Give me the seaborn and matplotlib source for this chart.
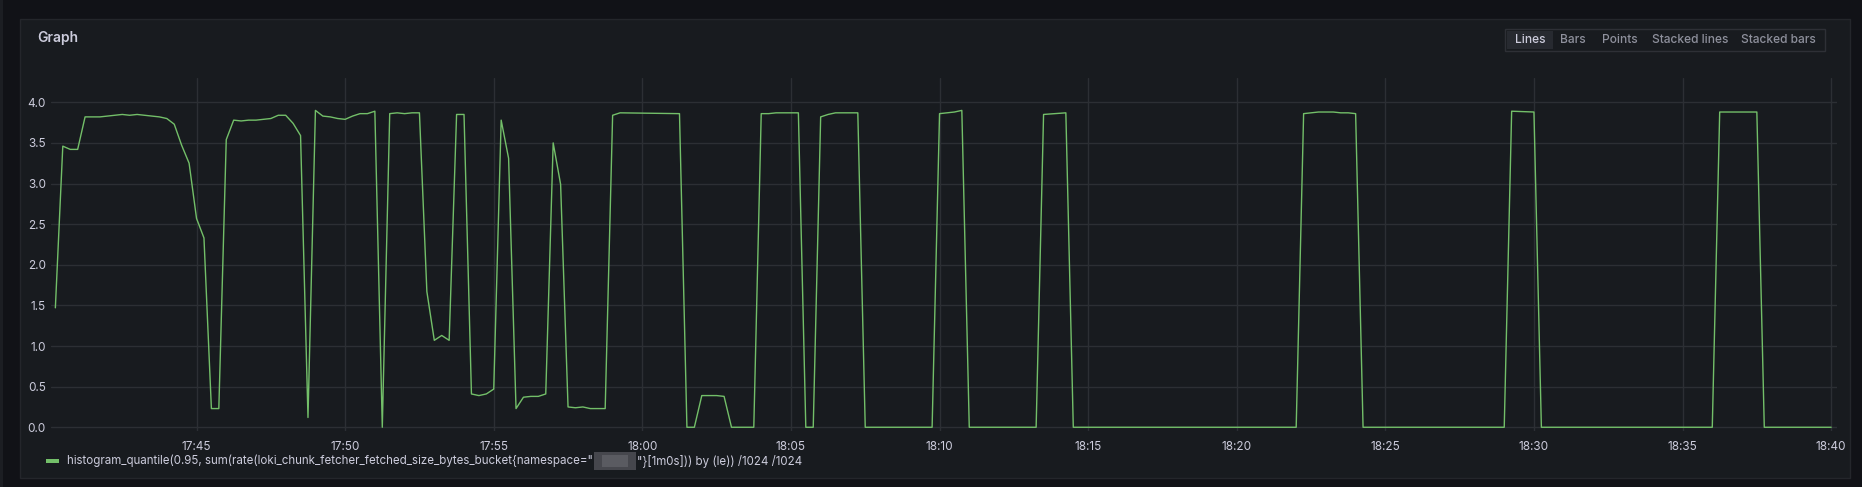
import matplotlib
matplotlib.use("Agg")
import matplotlib.pyplot as plt
import matplotlib.dates as mdates
from matplotlib.patches import Rectangle
import pandas as pd
import seaborn as sns

# sampled series (15s step), only the visible vertices
times = [
    "17:40:15", "17:40:30", "17:40:45", "17:41:00", "17:41:15", "17:41:45", "17:42:00", "17:42:15",
    "17:42:30", "17:42:45", "17:43:00", "17:43:15", "17:43:30", "17:43:45", "17:44:00", "17:44:15",
    "17:44:30", "17:44:45", "17:45:00", "17:45:15", "17:45:30", "17:45:45", "17:46:00", "17:46:15",
    "17:46:30", "17:46:45", "17:47:00", "17:47:15", "17:47:30", "17:47:45", "17:48:00", "17:48:15",
    "17:48:30", "17:48:45", "17:49:00", "17:49:15", "17:49:30", "17:49:45", "17:50:00", "17:50:15",
    "17:50:30", "17:50:45", "17:51:00", "17:51:15", "17:51:30", "17:51:45", "17:52:00", "17:52:15",
    "17:52:30", "17:52:45", "17:53:00", "17:53:15", "17:53:30", "17:53:45", "17:54:00", "17:54:15",
    "17:54:30", "17:54:45", "17:55:00", "17:55:15", "17:55:30", "17:55:45", "17:56:00", "17:56:15",
    "17:56:30", "17:56:45", "17:57:00", "17:57:15", "17:57:30", "17:57:45", "17:58:00", "17:58:15",
    "17:58:30", "17:58:45", "17:59:00", "17:59:15", "18:01:15", "18:01:30", "18:01:45", "18:02:00",
    "18:02:30", "18:02:45", "18:03:00", "18:03:45", "18:04:00", "18:04:15", "18:04:30", "18:05:15",
    "18:05:30", "18:05:45", "18:06:00", "18:06:15", "18:06:30", "18:07:15", "18:07:30", "18:09:45",
    "18:10:00", "18:10:15", "18:10:30", "18:10:45", "18:11:00", "18:13:15", "18:13:30", "18:14:15",
    "18:14:30", "18:22:00", "18:22:15", "18:22:30", "18:22:45", "18:23:00", "18:23:15", "18:23:30",
    "18:23:45", "18:24:00", "18:24:15", "18:29:00", "18:29:15", "18:30:00", "18:30:15", "18:36:00",
    "18:36:15", "18:37:30", "18:37:45", "18:40:00",
]
values = [
    1.47, 3.46, 3.42, 3.42, 3.82, 3.82, 3.83, 3.84,
    3.85, 3.84, 3.85, 3.84, 3.83, 3.82, 3.80, 3.73,
    3.47, 3.25, 2.57, 2.33, 0.23, 0.23, 3.54, 3.78,
    3.77, 3.78, 3.78, 3.79, 3.80, 3.84, 3.84, 3.74,
    3.59, 0.12, 3.90, 3.83, 3.82, 3.80, 3.79, 3.83,
    3.86, 3.86, 3.89, 0.00, 3.86, 3.87, 3.86, 3.87,
    3.87, 1.67, 1.07, 1.13, 1.07, 3.85, 3.85, 0.41,
    0.39, 0.41, 0.47, 3.78, 3.31, 0.23, 0.37, 0.38,
    0.38, 0.41, 3.50, 2.99, 0.25, 0.24, 0.25, 0.23,
    0.23, 0.23, 3.84, 3.87, 3.86, 0.00, 0.00, 0.39,
    0.39, 0.38, 0.00, 0.00, 3.86, 3.86, 3.87, 3.87,
    0.00, 0.00, 3.82, 3.85, 3.87, 3.87, 0.00, 0.00,
    3.86, 3.87, 3.88, 3.90, 0.00, 0.00, 3.85, 3.87,
    0.00, 0.00, 3.86, 3.87, 3.88, 3.88, 3.88, 3.87,
    3.87, 3.86, 0.00, 0.00, 3.89, 3.88, 0.00, 0.00,
    3.88, 3.88, 0.00, 0.00,
]

series_name = ('histogram_quantile(0.95, sum(rate(loki_chunk_fetcher_fetched_size_bytes_bucket'
               '{namespace="')
series_tail = '"}[1m0s])) by (le)) /1024 /1024'
y_ticks = [0.0, 0.5, 1.0, 1.5, 2.0, 2.5, 3.0, 3.5, 4.0]
modes = ["Lines", "Bars", "Points", "Stacked lines", "Stacked bars"]

W, H = 1862, 487
BG = "#111217"
PANEL = "#181b1f"
GRID = "#2c2f34"
TEXT = "#ccccdc"
GREEN = "#73bf69"

sns.set_theme(style="dark")
plt.rcParams["font.family"] = ["Inter", "DejaVu Sans"]

df = pd.DataFrame({
    "time": pd.to_datetime(["2024-01-01 " + t for t in times]),
    "value": values,
})

fig = plt.figure(figsize=(W / 100, H / 100), dpi=100, facecolor=BG)


def px(x, y):
    # pixel (top-left origin) -> figure fraction
    return x / W, 1 - y / H


# panel background
fig.add_artist(Rectangle(px(20, 478), (1850 - 20) / W, (478 - 19) / H, transform=fig.transFigure,
                         facecolor=PANEL, edgecolor="#24262b", lw=1, zorder=-10))
fig.add_artist(Rectangle((0, 0), 3 / W, 1, transform=fig.transFigure,
                         facecolor="#1c1e23", edgecolor="none", zorder=-10))

l, b = px(51.4, 431)
r, t = px(1836.6, 78.3)
ax = fig.add_axes([l, b, r - l, t - b])
ax.set_facecolor(PANEL)

sns.lineplot(data=df, x="time", y="value", ax=ax, color=GREEN, linewidth=1.0, legend=False)

ax.set_xlim(pd.Timestamp("2024-01-01 17:40:07"), pd.Timestamp("2024-01-01 18:40:11"))
ax.set_ylim(-0.046, 4.295)
ax.set_yticks(y_ticks)
ax.set_yticklabels([f"{v:.1f}" for v in y_ticks])
ax.xaxis.set_major_locator(mdates.MinuteLocator(byminute=range(0, 60, 5)))
ax.xaxis.set_major_formatter(mdates.DateFormatter("%H:%M"))
ax.grid(True, color=GRID, linewidth=1.0)
ax.set_axisbelow(True)
ax.set_xlabel("")
ax.set_ylabel("")
for s in ax.spines.values():
    s.set_visible(False)
ax.tick_params(axis="both", length=0, colors=TEXT, labelsize=8.5)
ax.tick_params(axis="x", pad=7)
ax.tick_params(axis="y", pad=4)

# title
fig.text(*px(37, 38), "Graph", color=TEXT, fontsize=10, fontweight="semibold", va="center", ha="left")

# mode switcher
fig.add_artist(Rectangle(px(1504.5, 51), (1825 - 1504.5) / W, (51 - 28.7) / H, transform=fig.transFigure,
                         facecolor="none", edgecolor="#2e3036", lw=1))
fig.add_artist(Rectangle(px(1507, 49), (1552.5 - 1507) / W, (49 - 31) / H, transform=fig.transFigure,
                         facecolor="#272a30", edgecolor="none"))
mode_x = [1530, 1573, 1619.6, 1690, 1778.7]
for name, x in zip(modes, mode_x):
    fig.text(*px(x, 40), name, color=TEXT if name == "Lines" else "#8e909c", fontsize=8.6,
             fontweight="medium", ha="center", va="center")

# legend
fig.add_artist(Rectangle(px(46, 463), 12.5 / W, 4 / H, transform=fig.transFigure,
                         facecolor=GREEN, edgecolor="none"))
t1 = fig.text(*px(67, 461), series_name, color=TEXT, fontsize=8.3, ha="left", va="center")
fig.canvas.draw()
bb = t1.get_window_extent()
blur_x0 = bb.x1 + 1
fig.add_artist(Rectangle(((blur_x0) / W, 1 - 470 / H), 42 / W, 18 / H, transform=fig.transFigure,
                         facecolor="#46474d", edgecolor="none"))
fig.add_artist(Rectangle(((blur_x0 + 8) / W, 1 - 467 / H), 26 / W, 12 / H, transform=fig.transFigure,
                         facecolor="#5a5b61", edgecolor="none"))
fig.text((blur_x0 + 43) / W, 1 - 461 / H, series_tail, color=TEXT, fontsize=8.3, ha="left", va="center")

fig.savefig("out.png", dpi=100, facecolor=BG)
